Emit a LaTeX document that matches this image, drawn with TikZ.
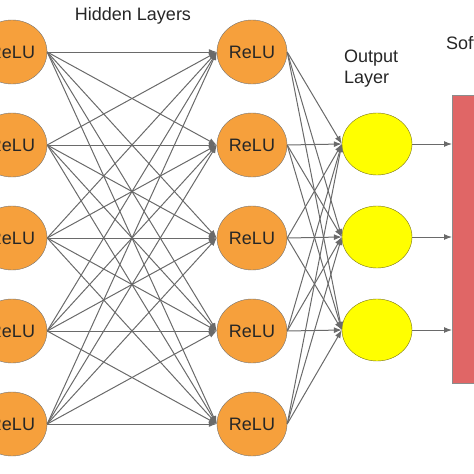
\documentclass[tikz,border=0pt]{standalone}
\usepackage{fontspec}
\setmainfont{Liberation Sans}
\usetikzlibrary{shapes.geometric,arrows.meta}
\definecolor{reluorange}{HTML}{F6A03C}
\definecolor{outyellow}{HTML}{FFFF00}
\definecolor{softred}{HTML}{E06666}
\definecolor{linkgray}{HTML}{6A6A6A}

\begin{document}
\begin{tikzpicture}[x=1pt,y=-1pt,font=\fontsize{18}{21}\selectfont,text=black!85,
  relu/.style={ellipse,draw=black!55,fill=reluorange,minimum width=70pt,minimum height=64pt,inner sep=0pt},
  outnode/.style={ellipse,draw=olive!80!black,fill=outyellow,minimum width=70pt,minimum height=62pt,inner sep=0pt},
  softbox/.style={draw=black!45,fill=softred,minimum width=50pt,minimum height=288pt,inner sep=0pt,anchor=north west},
  link/.style={draw=linkgray,line width=1pt,-{Latex[length=8pt,width=6pt]}}]
\useasboundingbox (0,0) rectangle (474,474);
\foreach \i/\y in {1/52,2/145,3/238,4/331,5/424}{
\node[relu] (a\i) at (12,\y) {ReLU};
\node[relu] (b\i) at (252,\y) {ReLU};
}
\foreach \k/\y in {1/144,2/237,3/330}
\node[outnode] (o\k) at (377,\y) {};
\node[softbox] (sm) at (452,95) {};
\node (hidden) at (133,16) {Hidden Layers};
\node[align=left,anchor=north west,inner sep=0pt] (outlbl) at (344,50) {Output\\Layer};
\node[anchor=west,inner sep=0pt] (smlbl) at (446,43) {Softmax};
% hidden to hidden
\foreach \i in {1,...,5}
\foreach \j in {1,...,5}
\draw[link] (a\i.east) -- (b\j.west);
% hidden to output
\foreach \i in {1,...,5}
\foreach \k in {1,2,3}
\draw[link] (b\i.east) -- (o\k.west);
% output to softmax
\foreach \k in {1,2,3}
\draw[link] (o\k.east) -- (o\k.east -| sm.west);
\end{tikzpicture}
\end{document}
